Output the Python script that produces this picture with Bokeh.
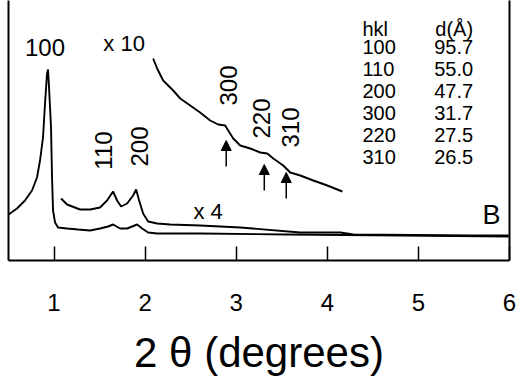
import math
from bokeh.plotting import figure
from bokeh.models import (Range1d, FixedTicker, LinearAxis, Label, Arrow,
                          NormalHead, ColumnDataSource)
from bokeh.core.properties import value
from bokeh.embed import file_html
from bokeh.resources import INLINE

# ---- data (intensity in arbitrary units) ----
two_theta_main = [0.500, 0.593, 0.681, 0.758, 0.813, 0.846, 0.879, 0.901, 0.923,
                  0.934, 0.945, 0.967, 0.978, 0.989, 1.011, 1.044, 1.143, 1.264,
                  1.396, 1.505, 1.593, 1.648, 1.725, 1.802, 1.857, 1.912, 1.967,
                  2.033, 2.132, 2.275, 2.604, 3.560, 4.802, 5.990]
intensity_main = [46, 52, 60, 70, 83, 100, 123, 157, 187,
                  191, 173, 133, 83, 50, 38, 33, 32, 31,
                  30, 32, 34, 36, 32, 32, 34, 36, 32,
                  28, 27, 27, 27, 26, 25, 24]

two_theta_x4 = [1.077, 1.143, 1.286, 1.396, 1.505, 1.582, 1.648, 1.692, 1.736,
                1.802, 1.868, 1.901, 1.934, 1.978, 2.033, 2.132, 2.275, 2.604,
                3.044, 3.703, 4.143, 4.286, 5.604, 5.990]
intensity_x4 = [62, 56, 51, 51, 53, 60, 69, 60, 54,
                57, 65, 71, 60, 47, 39, 37, 36, 35,
                33, 28, 28, 26, 25, 25]

two_theta_x10 = [2.088, 2.132, 2.198, 2.308, 2.385, 2.495, 2.604, 2.714, 2.802,
                 2.879, 2.912, 2.967, 3.044, 3.154, 3.264, 3.341, 3.407, 3.516,
                 3.593, 3.703, 3.846, 4.000, 4.165]
intensity_x10 = [202, 192, 180, 170, 162, 155, 148, 140, 136,
                 135, 130, 122, 115, 112, 108, 107, 102, 95,
                 88, 85, 80, 75, 69]

hkl = ["100", "110", "200", "300", "220", "310"]
d_spacing = ["95.7", "55.0", "47.7", "31.7", "27.5", "26.5"]
x_ticks = [1, 2, 3, 4, 5, 6]

FONT = "Liberation Sans"

p = figure(frame_width=501, frame_height=260, output_backend="svg",
           toolbar_location=None,
           x_range=Range1d(0.5, 6.0), y_range=Range1d(0, 260),
           min_border_left=8, min_border_right=7, min_border_top=0,
           min_border_bottom=117)
p.outline_line_color = None
p.grid.visible = False
p.background_fill_color = "white"
p.border_fill_color = "white"

# bottom axis
xa = p.xaxis[0]
xa.ticker = FixedTicker(ticks=x_ticks)
xa.major_tick_in = 14
xa.major_tick_out = 0
xa.minor_tick_line_color = None
xa.axis_line_width = 2
xa.major_tick_line_width = 1.5
xa.major_label_text_font = FONT
xa.major_label_text_font_size = "24px"
xa.major_label_text_color = "black"
xa.major_label_standoff = 33
xa.axis_label = "2 θ (degrees)"
xa.axis_label_text_font = FONT
xa.axis_label_text_font_size = "42px"
xa.axis_label_text_font_style = "normal"
xa.axis_label_text_color = "black"
xa.axis_label_standoff = 15

# left axis: line only
ya = p.yaxis[0]
ya.ticker = FixedTicker(ticks=[])
ya.axis_line_width = 2
ya.major_tick_line_color = None
ya.minor_tick_line_color = None
ya.major_label_standoff = 0

ra = LinearAxis(ticker=FixedTicker(ticks=[]), axis_line_width=2,
                major_tick_line_color=None, minor_tick_line_color=None,
                major_label_standoff=0)
p.add_layout(ra, "right")

# curves
lw = 1.9
p.line(two_theta_main, intensity_main, line_color="black", line_width=lw)
p.line(two_theta_x4, intensity_x4, line_color="black", line_width=lw)
p.line(two_theta_x10, intensity_x10, line_color="black", line_width=lw)

# annotations
def lab(x, y, t, size="24px", angle=0.0):
    p.add_layout(Label(x=x, y=y, text=t, text_font=FONT, text_font_size=size,
                       text_align="center", text_baseline="middle",
                       text_color="black", angle=angle))

lab(0.901, 213, "100")
lab(1.769, 217, "x 10", size="22px")
lab(1.538, 110, "110", angle=math.pi / 2)
lab(1.934, 114, "200", angle=math.pi / 2)
lab(2.912, 175, "300", angle=math.pi / 2)
lab(3.275, 142, "220", angle=math.pi / 2)
lab(3.593, 133, "310", angle=math.pi / 2)
lab(2.692, 49, "x 4", size="22px")
lab(5.802, 46, "B", size="27px")

for (x, y0, y1) in [(2.890, 94, 120), (3.308, 70, 96), (3.549, 62, 88)]:
    p.add_layout(Arrow(x_start=x, y_start=y0, x_end=x, y_end=y1,
                       line_color="black", line_width=1.5,
                       end=NormalHead(size=10, fill_color="black",
                                      line_color="black")))

# table of hkl / d-spacing
row_y = [213.3 - 22.0 * i for i in range(len(hkl))]
src = ColumnDataSource(dict(hkl=hkl, d=d_spacing, y=row_y))
p.text(x=4.385, y="y", text="hkl", source=src, text_font=value(FONT),
       text_font_size="20px", text_align="left", text_baseline="alphabetic",
       text_color="black")
p.text(x=5.6, y="y", text="d", source=src, text_font=value(FONT),
       text_font_size="20px", text_align="right", text_baseline="alphabetic",
       text_color="black")
p.add_layout(Label(x=4.385, y=232, text="hkl", text_font=FONT,
                   text_font_size="20px", text_align="left",
                   text_baseline="alphabetic", text_color="black"))
p.add_layout(Label(x=5.6, y=232, text="d(Å)", text_font=FONT,
                   text_font_size="20px", text_align="right",
                   text_baseline="alphabetic", text_color="black"))

open("out.html", "w").write(file_html(p, INLINE))
